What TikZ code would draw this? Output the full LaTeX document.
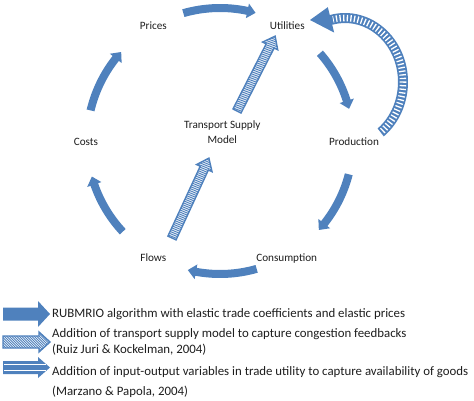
\documentclass[tikz,border=0pt]{standalone}
\usepackage{fontspec}
\setmainfont{Carlito}
\definecolor{ofblue}{RGB}{79,129,189}
\definecolor{txtc}{RGB}{30,30,30}
\tikzset{
  lbl/.style={font=\fontsize{11.2}{13}\selectfont, text=txtc, inner sep=0, anchor=base},
  leg/.style={font=\fontsize{12.85}{15}\selectfont, text=txtc, inner sep=0, anchor=base west},
  solidfill/.style={fill=ofblue, draw=none},
  hatchline/.style={draw=ofblue, line width=0.9},
  hatchedge/.style={draw=ofblue, line width=1.4, line join=miter},
}
\newcommand{\ArcArrow}[2]{%
  \pgfmathsetmacro{\arrSgn}{sign(#2-#1)}%
  \pgfmathsetmacro{\arrHb}{#2-\arrSgn*3.6}%
  \fill[solidfill, shift={(c)}] (#1:137) arc[start angle=#1, end angle=\arrHb, radius=137]
    -- (\arrHb:140.5) -- (#2:133) -- (\arrHb:125.5) -- (\arrHb:129)
    arc[start angle=\arrHb, end angle=#1, radius=129] -- cycle;
}
\newcommand{\HatchArrow}[5]{% x, y, angle, length, half body; head half = body+4
  \begin{scope}[shift={(#1,#2)}, rotate=#3]
    \pgfmathsetmacro{\hbX}{#4-11}%
    \pgfmathsetmacro{\hhY}{#5+4}%
    \fill[white] (0,-#5) -- (\hbX,-#5) -- (\hbX,-\hhY) -- (#4,0) -- (\hbX,\hhY) -- (\hbX,#5) -- (0,#5) -- cycle;
    \begin{scope}
      \clip (0,-#5) -- (\hbX,-#5) -- (\hbX,-\hhY) -- (#4,0) -- (\hbX,\hhY) -- (\hbX,#5) -- (0,#5) -- cycle;
      \foreach \i in {-24,-21.5,...,110} \draw[hatchline] (\i,-14) -- ++(-28,28);
    \end{scope}
    \draw[hatchedge] (0,-#5) -- (\hbX,-#5) -- (\hbX,-\hhY) -- (#4,0) -- (\hbX,\hhY) -- (\hbX,#5) -- (0,#5) -- cycle;
  \end{scope}
}
\begin{document}
\begin{tikzpicture}[x=1pt,y=1pt]
\useasboundingbox (0,0) rectangle (474,400);
\coordinate (c) at (220,259);

% cycle labels
\node[lbl] (prices) at (153.3,370.8) {Prices};
\node[lbl] (util) at (287.3,370.8) {Utilities};
\node[lbl] (prod) at (354,254.8) {Production};
\node[lbl] (cons) at (286.7,138.8) {Consumption};
\node[lbl] (flows) at (153.3,138.8) {Flows};
\node[lbl] (costs) at (86,254.8) {Costs};
\node[lbl] (tsm1) at (222.3,271.8) {Transport Supply};
\node[lbl] (tsm2) at (222.3,256.8) {Model};

% solid cycle arrows
\ArcArrow{106}{74.5}
\ArcArrow{41.3}{14}
\ArcArrow{-14.5}{-42}
\ArcArrow{-74}{-104}
\ArcArrow{-137}{-164.5}
\ArcArrow{166.7}{138}

% hatched straight arrows
\HatchArrow{172}{162}{65.2}{88}{4.5}
\HatchArrow{237}{289}{63}{84}{4.5}

% striped curved arrow Production -> Utilities
\coordinate (cc) at (345,318);
\begin{scope}[shift={(cc)}]
  \fill[ofblue] (-52:63 and 69) arc[start angle=-52, end angle=104, x radius=63, y radius=69]
    -- (-17.2,74.8) -- (-35,62) -- (-10.8,49.4) -- (104:53 and 59)
    arc[start angle=104, end angle=-52, x radius=53, y radius=59] -- cycle;
  \draw[white, line width=6.6, dash pattern=on 1.3 off 2.3]
    (-50:58 and 64) arc[start angle=-50, end angle=102, x radius=58, y radius=64];
\end{scope}

% legend arrows
\fill[solidfill] (3,79.5) -- (38,79.5) -- (38,73) -- (50,86) -- (38,99) -- (38,92.5) -- (3,92.5) -- cycle;
\HatchArrow{3}{58}{0}{47}{6}
\fill[solidfill] (3,26) -- (38,26) -- (38,22) -- (50,32.5) -- (38,43) -- (38,39) -- (3,39) -- cycle;
\draw[white, line width=1.2] (4,35.7) -- (46,35.7);
\draw[white, line width=1.2] (4,29.3) -- (46,29.3);

% legend texts
\node[leg] (l1) at (52,82.5) {RUBMRIO algorithm with elastic trade coefficients and elastic prices};
\node[leg] (l2) at (52,62.5) {Addition of transport supply model to capture congestion feedbacks};
\node[leg] (l3) at (52,47) {(Ruiz Juri \& Kockelman, 2004)};
\node[leg] (l4) at (52,24.5) {Addition of input-output variables in trade utility to capture availability of goods};
\node[leg] (l5) at (52,4.5) {(Marzano \& Papola, 2004)};
\end{tikzpicture}
\end{document}
